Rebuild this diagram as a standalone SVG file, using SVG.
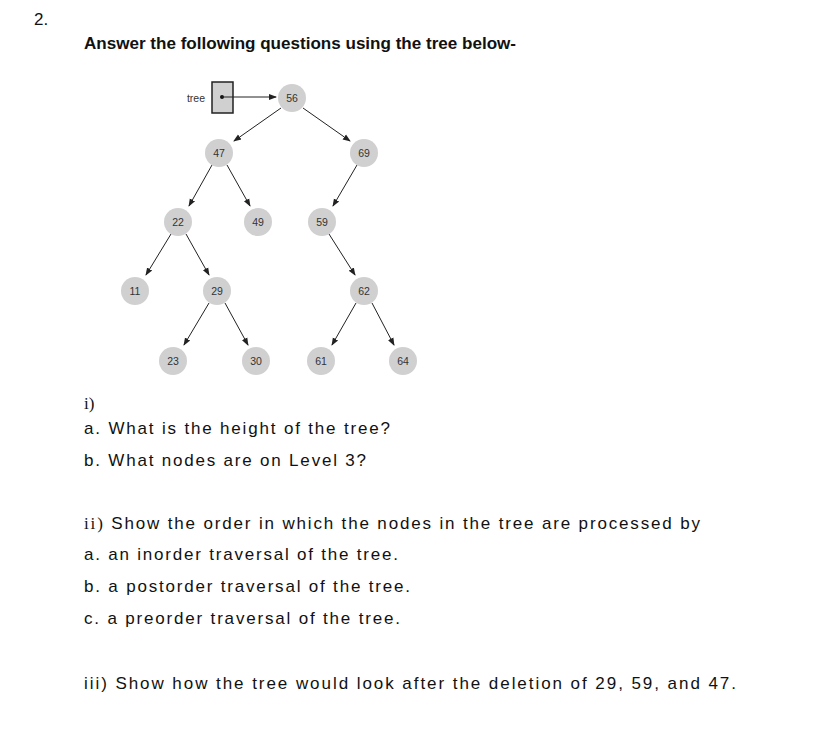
<svg xmlns="http://www.w3.org/2000/svg" width="835" height="737" viewBox="0 0 835 737">
<style>
.n circle{fill:#d0d0d0}
.n text{font-family:"Liberation Sans",Arial,sans-serif;font-size:10.5px;fill:#333;text-anchor:middle}
.e line{stroke:#222;stroke-width:1;marker-end:url(#ah)}
.t{font-family:"Liberation Sans",Arial,sans-serif;font-size:17px;fill:#111}
.s{font-family:"Liberation Serif","Times New Roman",serif;font-size:17px;fill:#111}
</style>
<defs><marker id="ah" markerWidth="8" markerHeight="8" refX="7" refY="4" orient="auto" markerUnits="userSpaceOnUse"><path d="M0,1 L8,4 L0,7 Z" fill="#222"/></marker></defs>
<rect width="835" height="737" fill="#fff"/>
<text x="34" y="25" class="t" font-size="16">2.</text>
<text x="84" y="49" class="t" style="font-size:16px;font-weight:bold" textLength="432" lengthAdjust="spacingAndGlyphs">Answer the following questions using the tree below-</text>
<g id="tree-ptr">
<text x="196" y="102" style="font-family:'Liberation Sans',sans-serif;font-size:10.5px;fill:#333;text-anchor:middle">tree</text>
<rect x="212" y="82" width="21" height="31" fill="#d0d0d0" stroke="#222" stroke-width="1.5"/>
<circle cx="222" cy="97" r="2" fill="#111"/>
</g>
<g class="e" id="connectors">
<line x1="222" y1="97" x2="276" y2="97"/>
<line x1="281" y1="108" x2="234" y2="141"/>
<line x1="303" y1="108" x2="350" y2="141"/>
<line x1="212" y1="165" x2="189" y2="206"/>
<line x1="227" y1="165" x2="250" y2="206"/>
<line x1="357" y1="165" x2="333" y2="206"/>
<line x1="171" y1="234" x2="146" y2="275"/>
<line x1="186" y1="234" x2="209" y2="275"/>
<line x1="329" y1="234" x2="355" y2="275"/>
<line x1="209" y1="303" x2="184" y2="345"/>
<line x1="225" y1="303" x2="248" y2="345"/>
<line x1="356" y1="303" x2="332" y2="345"/>
<line x1="372" y1="303" x2="394" y2="345"/>
</g>
<g class="n" id="n56"><circle cx="292" cy="98" r="14"/><text x="292" y="102">56</text></g>
<g class="n" id="n47"><circle cx="219" cy="153" r="14"/><text x="219" y="157">47</text></g>
<g class="n" id="n69"><circle cx="364" cy="153" r="14"/><text x="364" y="157">69</text></g>
<g class="n" id="n22"><circle cx="178" cy="222" r="14"/><text x="178" y="226">22</text></g>
<g class="n" id="n49"><circle cx="258" cy="222" r="14"/><text x="258" y="226">49</text></g>
<g class="n" id="n59"><circle cx="322" cy="222" r="14"/><text x="322" y="226">59</text></g>
<g class="n" id="n11"><circle cx="135" cy="291" r="14"/><text x="135" y="295">11</text></g>
<g class="n" id="n29"><circle cx="217" cy="291" r="14"/><text x="217" y="295">29</text></g>
<g class="n" id="n62"><circle cx="364" cy="291" r="14"/><text x="364" y="295">62</text></g>
<g class="n" id="n23"><circle cx="173" cy="361" r="14"/><text x="173" y="365">23</text></g>
<g class="n" id="n30"><circle cx="256" cy="361" r="14"/><text x="256" y="365">30</text></g>
<g class="n" id="n61"><circle cx="321" cy="361" r="14"/><text x="321" y="365">61</text></g>
<g class="n" id="n64"><circle cx="403" cy="361" r="14"/><text x="403" y="365">64</text></g>
<text x="84" y="409" class="s">i)</text>
<text x="84" y="434" class="t" textLength="306" lengthAdjust="spacing">a. What is the height of the tree?</text>
<text x="84" y="466" class="t" textLength="282" lengthAdjust="spacing">b. What nodes are on Level 3?</text>
<text x="84" y="529" class="t" textLength="616" lengthAdjust="spacing"><tspan class="s">ii)</tspan> Show the order in which the nodes in the tree are processed by</text>
<text x="84" y="560" class="t" textLength="314" lengthAdjust="spacing">a. an inorder traversal of the tree.</text>
<text x="84" y="592" class="t" textLength="326" lengthAdjust="spacing">b. a postorder traversal of the tree.</text>
<text x="84" y="624" class="t" textLength="316" lengthAdjust="spacing">c. a preorder traversal of the tree.</text>
<text x="84" y="689" class="t" textLength="652" lengthAdjust="spacing">iii) Show how the tree would look after the deletion of 29, 59, and 47.</text>
</svg>
